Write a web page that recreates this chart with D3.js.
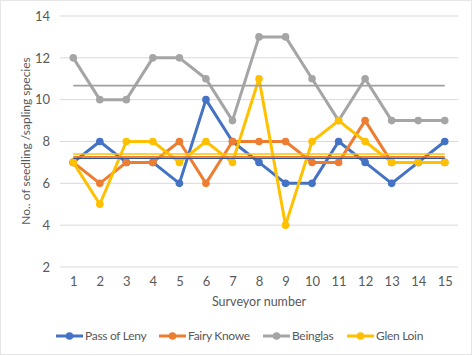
<!DOCTYPE html>
<html><head><meta charset="utf-8">
<script src="https://cdn.jsdelivr.net/npm/d3@7"></script>
<style>body{margin:0;background:#fff}svg{display:block}text{font-family:Lato,"Open Sans",sans-serif;fill:#595959}</style>
</head><body>
<svg id="c" width="474" height="356"></svg>
<script>
const surveyors = [1,2,3,4,5,6,7,8,9,10,11,12,13,14,15];
const seriesNames = ["Pass of Leny","Fairy Knowe","Beinglas","Glen Loin"];
const passOfLeny = [7,8,7,7,6,10,8,7,6,6,8,7,6,7,8];
const fairyKnowe = [7,6,7,7,8,6,8,8,8,7,7,9,7,7,7];
const beinglas   = [12,10,10,12,12,11,9,13,13,11,9,11,9,9,9];
const glenLoin   = [7,5,8,8,7,8,7,11,4,8,9,8,7,7,7];
const means = [7.2, 7.27, 10.67, 7.4];
const yTicks = [2,4,6,8,10,12,14];
const colors = ["#4472C4","#ED7D31","#A5A5A5","#FFC000"];
const meanColors = ["#2F5597","#ED7D31","#A0A0A0","#FFC000"];
const allSeries = [passOfLeny, fairyKnowe, beinglas, glenLoin];

const svg = d3.select("#c");
svg.append("rect").attr("x",0.5).attr("y",0.5).attr("width",471).attr("height",354)
  .attr("fill","#fff").attr("stroke","#e6e6e6");

const x = d3.scalePoint().domain(surveyors).range([60,458]).padding(0.5);
const y = d3.scaleLinear().domain([2,14]).range([267,16]);

svg.append("g").selectAll("line").data(yTicks).join("line")
  .attr("x1",60).attr("x2",458).attr("y1",d=>y(d)).attr("y2",d=>y(d))
  .attr("stroke","#d9d9d9").attr("stroke-width",1);

const ya = svg.append("g").attr("transform","translate(60,0)")
  .call(d3.axisLeft(y).tickValues(yTicks).tickSize(0).tickPadding(10));
ya.select(".domain").remove();
ya.selectAll("text").style("font-size","13px").attr("fill","#595959");

const xa = svg.append("g").attr("transform","translate(0,267)")
  .call(d3.axisBottom(x).tickSize(0).tickPadding(10));
xa.select(".domain").remove();
xa.selectAll("text").style("font-size","13px").attr("fill","#595959");

svg.append("text").attr("x",259).attr("y",306).attr("text-anchor","middle")
  .style("font-size","12.5px").text("Surveyor number");
svg.append("text").attr("transform","translate(30,141) rotate(-90)").attr("text-anchor","middle")
  .style("font-size","12px").text("No.. of seedling /sapling species");

const line = d3.line().x((d,i)=>x(surveyors[i])).y(d=>y(d));

allSeries.forEach((s,k)=>{
  const g = svg.append("g");
  g.append("path").datum(s).attr("d",line).attr("fill","none")
    .attr("stroke",colors[k]).attr("stroke-width",3).attr("stroke-linejoin","round");
  g.selectAll("circle").data(s).join("circle")
    .attr("cx",(d,i)=>x(surveyors[i])).attr("cy",d=>y(d)).attr("r",3.8)
    .attr("fill",colors[k]);
});

means.forEach((m,k)=>{
  svg.append("line").attr("x1",x(surveyors[0])).attr("x2",x(surveyors[surveyors.length-1]))
    .attr("y1",y(m)).attr("y2",y(m)).attr("stroke",meanColors[k]).attr("stroke-width",1.6);
});

const legX = [56,159,263,347];
const lg = svg.append("g");
seriesNames.forEach((n,k)=>{
  const g = lg.append("g").attr("transform",`translate(${legX[k]},336)`);
  g.append("line").attr("x1",0).attr("x2",27).attr("stroke",colors[k]).attr("stroke-width",3);
  g.append("circle").attr("cx",13.5).attr("r",3.8).attr("fill",colors[k]);
  g.append("text").attr("x",29).attr("dy","0.35em").style("font-size","12px")
    .style("letter-spacing","-0.3px").text(n);
});
</script>
</body></html>
